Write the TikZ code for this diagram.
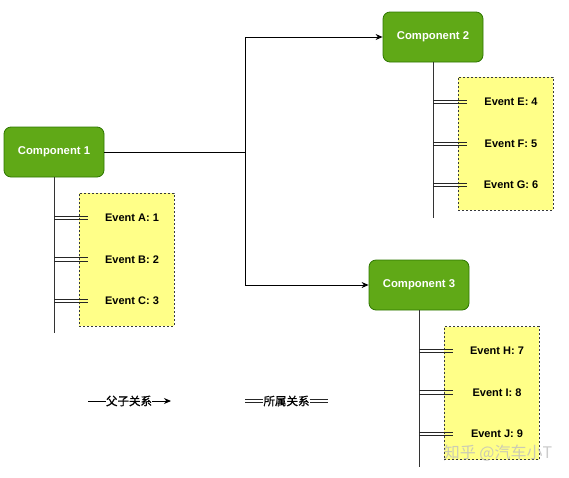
\documentclass[tikz,border=0pt]{standalone}
\usepackage{fontspec}
\setmainfont{Liberation Sans}
\newfontfamily\cjk{Noto Sans CJK SC}
\newfontfamily\cjkmed[FakeBold=1.2]{Noto Sans CJK SC}
\usetikzlibrary{arrows.meta}
\definecolor{cgreen}{HTML}{60A917}
\definecolor{cgreenline}{HTML}{2D7600}
\definecolor{cyellow}{HTML}{FFFF88}
\definecolor{cyellowline}{HTML}{36393D}
\tikzset{
  comp/.style={draw=cgreenline, fill=cgreen, rounded corners=7pt, minimum width=100pt, minimum height=50pt, text=white, font=\fontsize{11.3}{13}\selectfont\bfseries, line width=0.8pt},
  evbox/.style={draw=cyellowline, fill=cyellow, dashed, dash pattern=on 2pt off 2pt, line width=0.7pt, minimum width=95pt, minimum height=133pt},
  evtext/.style={font=\fontsize{11}{13}\selectfont\bfseries, text=black, inner sep=0pt},
  spine/.style={draw=black!80, line width=1pt},
  bline/.style={draw=black!85, line width=0.9pt},
  arr/.style={draw=black, line width=0.9pt, -{Stealth[length=7pt,width=6pt]}},
  legend/.style={font=\cjkmed\fontsize{11.5}{13}\selectfont, inner sep=0pt}
}
\newcommand{\belongline}[2]{%
  \draw[bline, transform canvas={yshift=1.6pt}] (#1) -- (#2);
  \draw[bline, transform canvas={yshift=-1.6pt}] (#1) -- (#2);}
\begin{document}
\begin{tikzpicture}[x=1pt,y=-1pt]
\useasboundingbox (0,0) rectangle (569,477);
% yellow boxes first
\node[evbox] (b1) at (126.5,259.5) {};
\node[evbox] (b2) at (505.5,143.5) {};
\node[evbox] (b3) at (491.5,393) {};
% components
\node[comp] (c1) at (54,152) {Component 1};
\node[comp] (c2) at (433,37) {Component 2};
\node[comp] (c3) at (419,285) {Component 3};
% spines
\coordinate (e1) at (54,333);
\coordinate (e2) at (433,218);
\coordinate (e3) at (419,467);
\draw[spine] (c1.south) -- (e1);
\draw[spine] (c2.south) -- (e2);
\draw[spine] (c3.south) -- (e3);
% events comp 1
\node[evtext] (ea) at (132,218) {Event A: 1};
\node[evtext] (eb) at (132,259.5) {Event B: 2};
\node[evtext] (ec) at (132,301) {Event C: 3};
\foreach \n/\y in {a/218,b/259.5,c/301}{
  \coordinate (s\n) at (54,\y);
  \coordinate (t\n) at (88,\y);
  \belongline{s\n}{t\n}
}
% events comp 2
\node[evtext] (ee) at (511,102) {Event E: 4};
\node[evtext] (ef) at (511,144) {Event F: 5};
\node[evtext] (eg) at (511,185) {Event G: 6};
\foreach \n/\y in {e/102,f/144,g/185}{
  \coordinate (s\n) at (433,\y);
  \coordinate (t\n) at (467,\y);
  \belongline{s\n}{t\n}
}
% events comp 3
\node[evtext] (eh) at (497,351) {Event H: 7};
\node[evtext] (ei) at (497,392.5) {Event I: 8};
\node[evtext] (ej) at (497,434) {Event J: 9};
\foreach \n/\y in {h/351,i/392.5,j/434}{
  \coordinate (s\n) at (419,\y);
  \coordinate (t\n) at (453,\y);
  \belongline{s\n}{t\n}
}
% parent-child connectors
\coordinate (j) at (245,152);
\draw[line width=0.9pt] (c1.east) -- (j);
\draw[arr] (j) |- (c2.west);
\draw[arr] (j) |- (c3.west);
% legend
\node[legend] (l1) at (129,401) {父子关系};
\coordinate (l1a) at (88,401);
\draw[line width=0.9pt] (l1a) -- (l1.west);
\coordinate (l1b) at (171,401);
\draw[arr] (l1.east) -- (l1b);
\node[legend] (l2) at (286.5,401) {所属关系};
\coordinate (l2a) at (245,401);
\coordinate (l2b) at (328,401);
\belongline{l2a}{l2.west}
\belongline{l2.east}{l2b}
% watermark
\node[font=\cjk\fontsize{16}{18}\selectfont, text=black!25, opacity=0.8, inner sep=0pt] (wm) at (498,453) {知乎 @汽车小T};
\end{tikzpicture}
\end{document}
